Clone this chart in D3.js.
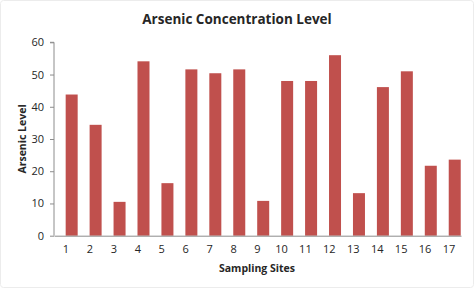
<!DOCTYPE html>
<html>
<head>
<meta charset="utf-8">
<script src="https://cdn.jsdelivr.net/npm/d3@7"></script>
<style>
  body { margin: 0; background: #fff; }
  text { font-family: "Open Sans", "Liberation Sans", sans-serif; fill: #262626; }
</style>
</head>
<body>
<script>
// data
var sites = ["1","2","3","4","5","6","7","8","9","10","11","12","13","14","15","16","17"];
var arsenic = [43.8, 34.4, 10.5, 54.1, 16.3, 51.6, 50.4, 51.6, 10.8, 48.0, 48.0, 56.0, 13.2, 46.1, 51.0, 21.7, 23.6];
var yTicks = [0, 10, 20, 30, 40, 50, 60];

var width = 474, height = 289;
var margin = {left: 54, right: 13, top: 42.3, bottom: 53.3};

var svg = d3.select("body").append("svg")
    .attr("width", width).attr("height", height);

// faint outer chart border
svg.append("rect")
    .attr("x", 0.5).attr("y", 0.5)
    .attr("width", width - 1).attr("height", height - 2)
    .attr("rx", 3)
    .attr("fill", "none").attr("stroke", "#ececec");

var x = d3.scaleBand()
    .domain(sites)
    .range([margin.left, width - margin.right]);

var y = d3.scaleLinear()
    .domain([0, 60])
    .range([height - margin.bottom, margin.top]);

var barW = 12;

// bars sit just right of the band centre in the reference
svg.selectAll("rect.bar").data(arsenic).enter()
    .append("rect")
    .attr("class", "bar")
    .attr("x", function(d, i){ return x(sites[i]) + x.bandwidth() / 2 - 0.3; })
    .attr("y", function(d){ return y(d); })
    .attr("width", barW)
    .attr("height", function(d){ return y(0) - y(d); })
    .attr("fill", "#C0504D");

var yAxis = d3.axisLeft(y).tickValues(yTicks).tickSize(4).tickPadding(6);
var gy = svg.append("g")
    .attr("transform", "translate(" + margin.left + ",0)")
    .call(yAxis);
gy.select(".domain").attr("stroke", "#8c8c8c").attr("d", "M-4," + y(60) + "H0V" + y(0));
gy.selectAll(".tick line").attr("stroke", "#8c8c8c");
gy.selectAll(".tick text").style("font-size", "11px");

var xAxis = d3.axisBottom(x).tickSize(0).tickPadding(10);
var gx = svg.append("g")
    .attr("transform", "translate(0," + y(0) + ")")
    .call(xAxis);
gx.select(".domain").attr("stroke", "#8c8c8c");
gx.selectAll(".tick text").style("font-size", "11px");

// titles
svg.append("text")
    .attr("x", 237).attr("y", 24)
    .attr("text-anchor", "middle")
    .style("font-size", "13.5px").style("font-weight", "bold")
    .text("Arsenic Concentration Level");

svg.append("text")
    .attr("transform", "translate(26,139) rotate(-90)")
    .attr("text-anchor", "middle")
    .style("font-size", "10.5px").style("font-weight", "bold")
    .text("Arsenic  Level");

svg.append("text")
    .attr("x", 257).attr("y", 272)
    .attr("text-anchor", "middle")
    .style("font-size", "10.5px").style("font-weight", "bold")
    .text("Sampling Sites");
</script>
</body>
</html>
